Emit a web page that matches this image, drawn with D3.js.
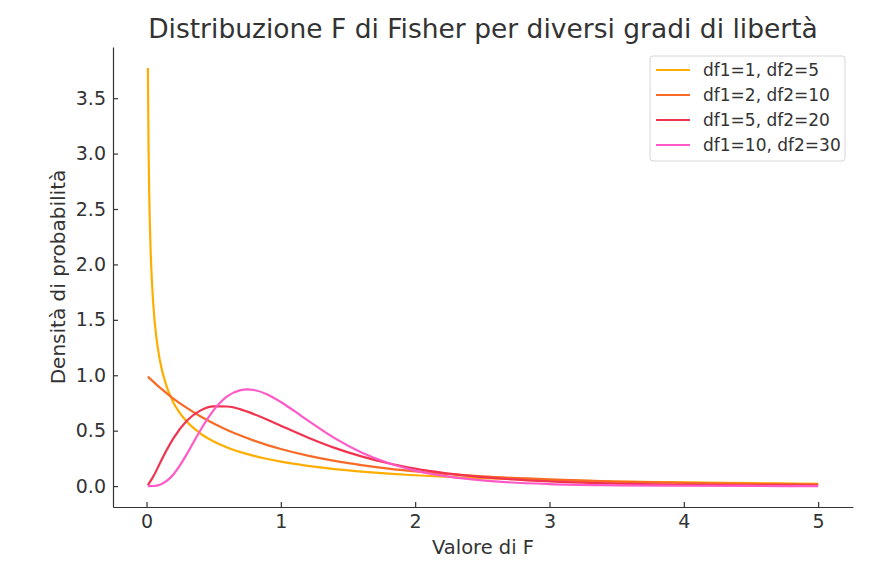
<!DOCTYPE html>
<html>
<head>
<meta charset="utf-8">
<script src="https://cdn.jsdelivr.net/npm/d3@7"></script>
<style>
  body { margin: 0; background: #fff; }
  svg text { font-family: "DejaVu Sans", sans-serif; fill: #333; }
</style>
</head>
<body>
<svg id="chart" width="873" height="570"></svg>
<script>
// values
const labels = ["df1=1, df2=5", "df1=2, df2=10", "df1=5, df2=20", "df1=10, df2=30"];
const colors = ["#ffae00", "#f76b26", "#f2334f", "#ff59c7"];

const xs1 = [0.01, 0.015, 0.02, 0.03, 0.05, 0.075, 0.1, 0.15, 0.2, 0.3, 0.4, 0.5, 0.6, 0.7, 0.8, 0.9, 1.0, 1.2, 1.4, 1.6, 1.8, 2.0, 2.5, 3.0, 3.5, 4.0, 4.5, 5.0];
const ys1 = [3.773, 3.072, 2.652, 2.152, 1.648, 1.325, 1.131, 0.897, 0.755, 0.582, 0.476, 0.403, 0.349, 0.306, 0.272, 0.244, 0.220, 0.182, 0.153, 0.131, 0.113, 0.098, 0.071, 0.054, 0.041, 0.033, 0.026, 0.021];

const xs2 = [0.01, 0.1, 0.2, 0.3, 0.4, 0.5, 0.6, 0.7, 0.8, 0.9, 1.0, 1.2, 1.4, 1.6, 1.8, 2.0, 2.5, 3.0, 3.5, 4.0, 4.5, 5.0];
const ys2 = [0.988, 0.888, 0.790, 0.705, 0.630, 0.565, 0.507, 0.456, 0.410, 0.370, 0.335, 0.275, 0.227, 0.189, 0.158, 0.133, 0.088, 0.060, 0.041, 0.029, 0.021, 0.016];

const xs3 = [0.01, 0.05, 0.1, 0.15, 0.2, 0.3, 0.4, 0.5, 0.6, 0.7, 0.8, 0.9, 1.0, 1.2, 1.4, 1.6, 1.8, 2.0, 2.5, 3.0, 3.5, 4.0, 4.5, 5.0];
const ys3 = [0.009, 0.085, 0.206, 0.325, 0.431, 0.590, 0.681, 0.719, 0.718, 0.692, 0.649, 0.599, 0.545, 0.439, 0.345, 0.268, 0.206, 0.158, 0.081, 0.042, 0.023, 0.012, 0.007, 0.004];

const xs4 = [0.01, 0.05, 0.1, 0.15, 0.2, 0.25, 0.3, 0.35, 0.4, 0.5, 0.6, 0.7, 0.75, 0.8, 0.9, 1.0, 1.1, 1.2, 1.4, 1.6, 1.8, 2.0, 2.25, 2.5, 3.0, 3.5, 4.0, 4.5, 5.0];
const ys4 = [0.000, 0.001, 0.012, 0.046, 0.105, 0.189, 0.288, 0.395, 0.501, 0.685, 0.809, 0.866, 0.873, 0.867, 0.827, 0.759, 0.678, 0.593, 0.433, 0.304, 0.208, 0.140, 0.085, 0.051, 0.018, 0.007, 0.003, 0.001, 0.000];

const xTicks = [0, 1, 2, 3, 4, 5];
const yTicks = [0, 0.5, 1.0, 1.5, 2.0, 2.5, 3.0, 3.5];

const series = [[xs1, ys1], [xs2, ys2], [xs3, ys3], [xs4, ys4]].map(([xs, ys], i) => ({
    label: labels[i],
    color: colors[i],
    points: xs.map((x, j) => ({x: x, y: ys[j]}))
}));

const svg = d3.select("#chart");
const margin = {left: 113, right: 20, top: 47, bottom: 63};
const W = 873, H = 570;

const x = d3.scaleLinear().domain([-0.2495, 5.2595]).range([margin.left, W - margin.right]);
const y = d3.scaleLinear().domain([-0.1887, 3.9617]).range([H - margin.bottom, margin.top]);

// axes with inward ticks
const xAxis = svg.append("g")
    .attr("transform", `translate(0, ${H - margin.bottom})`)
    .call(d3.axisBottom(x).tickValues(xTicks).tickFormat(d3.format("d")).tickSizeInner(-5).tickSizeOuter(0).tickPadding(8));
const yAxis = svg.append("g")
    .attr("transform", `translate(${margin.left}, 0)`)
    .call(d3.axisLeft(y).tickValues(yTicks).tickFormat(d3.format(".1f")).tickSizeInner(-5).tickSizeOuter(0).tickPadding(7));

[xAxis, yAxis].forEach(a => {
    a.select(".domain").attr("stroke", "#333").attr("stroke-width", 1.2);
    a.selectAll(".tick line").attr("stroke", "#333").attr("stroke-width", 1.2);
    a.selectAll(".tick text").style("font-size", "19px").style("fill", "#333");
});

const line = d3.line()
    .x(d => x(d.x))
    .y(d => y(d.y))
    .curve(d3.curveMonotoneX);

svg.append("g")
    .selectAll("path")
    .data(series)
    .join("path")
    .attr("d", d => line(d.points))
    .attr("fill", "none")
    .attr("stroke", d => d.color)
    .attr("stroke-width", 2.2);

// title and axis labels
svg.append("text")
    .attr("x", (margin.left + W - margin.right) / 2)
    .attr("y", 38)
    .attr("text-anchor", "middle")
    .style("font-size", "26.5px")
    .text("Distribuzione F di Fisher per diversi gradi di libertà");

svg.append("text")
    .attr("x", (margin.left + W - margin.right) / 2)
    .attr("y", 554)
    .attr("text-anchor", "middle")
    .style("font-size", "19.5px")
    .text("Valore di F");

svg.append("text")
    .attr("transform", `translate(65, ${(margin.top + H - margin.bottom) / 2}) rotate(-90)`)
    .attr("text-anchor", "middle")
    .style("font-size", "20px")
    .text("Densità di probabilità");

// legend
const legend = svg.append("g").attr("transform", "translate(650, 56)");
legend.append("rect")
    .attr("width", 195)
    .attr("height", 105)
    .attr("rx", 3)
    .attr("fill", "#fff")
    .attr("fill-opacity", 0.8)
    .attr("stroke", "#d6d6d6");

const rows = legend.selectAll("g.row")
    .data(series)
    .join("g")
    .attr("class", "row")
    .attr("transform", (d, i) => `translate(0, ${14 + i * 25})`);
rows.append("line")
    .attr("x1", 6).attr("x2", 40)
    .attr("stroke", d => d.color)
    .attr("stroke-width", 2.2);
rows.append("text")
    .attr("x", 53)
    .attr("dy", "0.35em")
    .style("font-size", "17px")
    .text(d => d.label);
</script>
</body>
</html>
